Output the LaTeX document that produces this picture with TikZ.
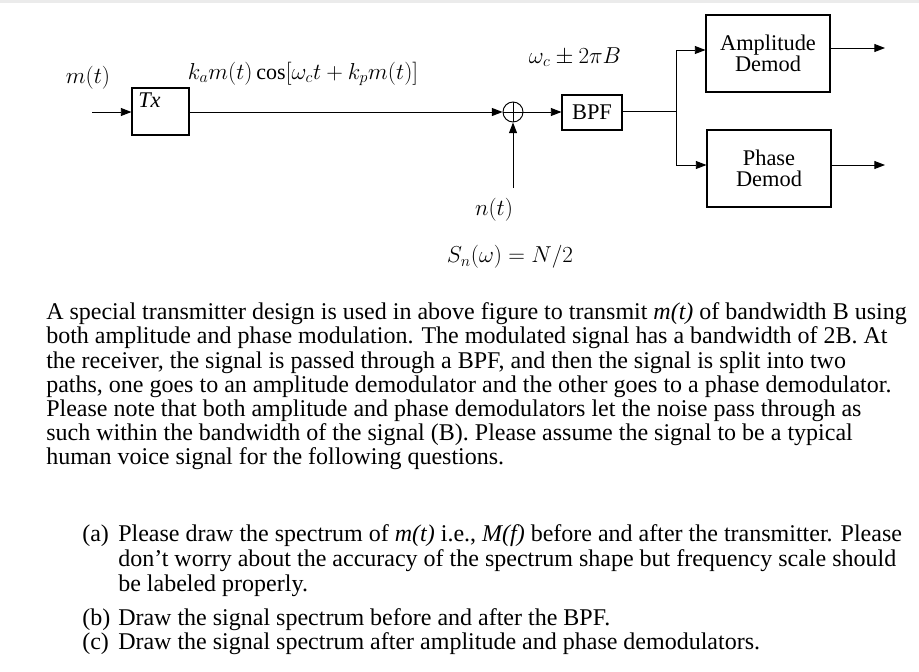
\documentclass[tikz,border=0pt]{standalone}
\usepackage{fontspec}
\setmainfont{Liberation Serif}
\usetikzlibrary{arrows.meta}
\begin{document}
\begin{tikzpicture}[x=0.75pt,y=-0.75pt,
  box/.style={draw,line width=0.8pt},
  lbl/.style={font=\fontsize{16.8}{18}\selectfont,inner sep=0},
  par/.style={anchor=base west,inner sep=0,font=\fontsize{18}{20}\selectfont},
  arr/.style={-{Triangle[length=8pt,width=6pt]},line width=0.7pt},
  ln/.style={line width=0.7pt}]
\useasboundingbox (0,0) rectangle (919,671);
\fill[black!8] (0,0) rectangle (919,3);
% blocks
\node[box,minimum width=57*0.75pt,minimum height=47*0.75pt] (tx) at (160.5,111.5) {};
\node[lbl,anchor=north west] (txl) at (138,93) {\textit{Tx}};
\node[draw,circle,line width=0.7pt,minimum size=20*0.75pt,inner sep=0] (add) at (513,112) {};
\draw[ln] (add.north)--(add.south) (add.west)--(add.east);
\node[box,minimum width=60*0.75pt,minimum height=35*0.75pt,lbl] (bpf) at (592,112.5) {BPF};
\node[box,minimum width=124*0.75pt,minimum height=77*0.75pt,align=center,lbl] (am) at (768,53.5) {Amplitude\\[-2pt]Demod};
\node[box,minimum width=124*0.75pt,minimum height=77*0.75pt,align=center,lbl] (ph) at (769,168.5) {Phase\\[-2pt]Demod};
% coordinates
\coordinate (in) at (92,112);
\coordinate (sp) at (676,111);
\coordinate (ns) at (513,188);
\coordinate (ao) at (885,48);
\coordinate (po) at (885,165);
\draw[arr] (in) -- (tx.west|-in);
\draw[arr] (tx.east|-in) -- (add.west);
\draw[arr] (add.east) -- (bpf.west|-add);
\draw[arr] (ns) -- (add.south);
\draw[ln] (bpf.east|-sp) -- (sp);
\draw[arr] (sp) |- (am.west|-0,50);
\draw[arr] (sp) |- (ph.west|-0,165);
\draw[arr] (am.east|-ao) -- (ao);
\draw[arr] (ph.east|-po) -- (po);
% labels
\node[lbl] (lm) at (88,78) {\fontsize{17}{18}\selectfont$m(t)$};
\node[lbl] (lk) at (303,74) {\fontsize{16.5}{18}\selectfont$k_a m(t)\cos[\omega_c t+k_p m(t)]$};
\node[lbl] (lw) at (575,57) {\fontsize{17}{18}\selectfont$\omega_c\pm 2\pi B$};
\node[lbl] (ln) at (494,210) {\fontsize{17}{18}\selectfont$n(t)$};
\node[lbl] (ls) at (510,257) {\fontsize{17}{18}\selectfont$S_n(\omega)=N/2$};
% paragraph
\node[par] (p1) at (46,319) {A special transmitter design is used in above figure to transmit \textit{m(t)} of bandwidth B using};
\node[par] (p2) at (46,343) {both amplitude and phase modulation. The modulated signal has a bandwidth of 2B. At};
\node[par] (p3) at (46,368) {the receiver, the signal is passed through a BPF, and then the signal is split into two};
\node[par] (p4) at (46,392) {paths, one goes to an amplitude demodulator and the other goes to a phase demodulator.};
\node[par] (p5) at (46,416) {Please note that both amplitude and phase demodulators let the noise pass through as};
\node[par] (p6) at (46,440) {such within the bandwidth of the signal (B). Please assume the signal to be a typical};
\node[par] (p7) at (46,464) {human voice signal for the following questions.};
\node[par] (a1) at (82,541) {(a)};
\node[par] (a1t) at (118,541) {Please draw the spectrum of \textit{m(t)} i.e., \textit{M(f)} before and after the transmitter. Please};
\node[par] (a2) at (118,566) {don’t worry about the accuracy of the spectrum shape but frequency scale should};
\node[par] (a3) at (118,591) {be labeled properly.};
\node[par] (b1) at (82,625) {(b)};
\node[par] (b1t) at (118,625) {Draw the signal spectrum before and after the BPF.};
\node[par] (c1) at (82,649) {(c)};
\node[par] (c1t) at (118,649) {Draw the signal spectrum after amplitude and phase demodulators.};
\end{tikzpicture}
\end{document}
